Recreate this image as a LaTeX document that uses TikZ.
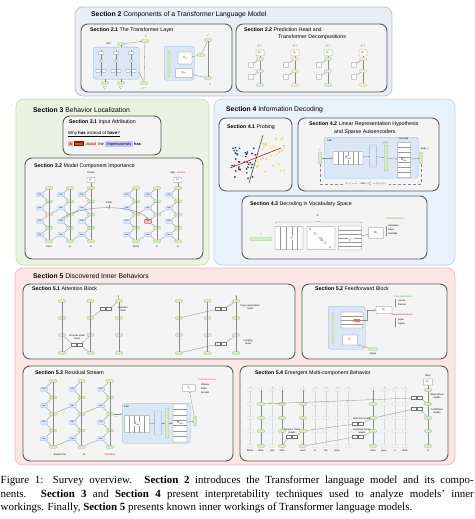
\RequirePackage{fix-cm}
\documentclass[tikz,border=0pt]{standalone}
\usepackage{fontspec}
\setmainfont{Liberation Serif}
\newfontfamily\hel{Liberation Sans}
\DeclareFontShape{OML}{cmm}{m}{it}{<->s*[1] cmmi10}{}
\DeclareFontShape{OML}{cmm}{b}{it}{<->s*[1] cmmib10}{}
\DeclareFontShape{OMS}{cmsy}{m}{n}{<->s*[1] cmsy10}{}
\DeclareFontShape{OMS}{cmsy}{b}{n}{<->s*[1] cmbsy10}{}
\usetikzlibrary{arrows.meta,decorations.pathreplacing,calc}
\definecolor{s2fill}{HTML}{EAEEF2}
\definecolor{s2draw}{HTML}{B8C2CC}
\definecolor{s3fill}{HTML}{EAF3E2}
\definecolor{s3draw}{HTML}{C6DEB4}
\definecolor{s4fill}{HTML}{E9F1FB}
\definecolor{s4draw}{HTML}{C2D4EC}
\definecolor{s5fill}{HTML}{FBE6E6}
\definecolor{s5draw}{HTML}{F0BDBD}
\definecolor{subfill}{HTML}{F4F4F4}
\definecolor{subdraw}{HTML}{5A5A5A}
\definecolor{rsfill}{HTML}{D8EBC8}
\definecolor{rsdraw}{HTML}{9BC283}
\definecolor{blkfill}{HTML}{DCE7F5}
\definecolor{blkdraw}{HTML}{9DB8DC}
\definecolor{lnc}{HTML}{8A8A8A}
\definecolor{redc}{HTML}{B22222}
\definecolor{greenc}{HTML}{6AA84F}
\definecolor{khaki}{HTML}{CFC48A}
\definecolor{gcol}{HTML}{A9BC9A}
\definecolor{dotblue}{HTML}{1F3B57}
\definecolor{dotyel}{HTML}{E6DC50}
\tikzset{
  secbox/.style={rounded corners=8pt,line width=0.7pt},
  subbox/.style={draw=subdraw,fill=subfill,rounded corners=7pt,line width=0.9pt},
  sectitle/.style={anchor=west,inner sep=0pt,font=\hel\fontsize{6.8}{8}\selectfont},
  subtitle/.style={anchor=west,inner sep=0pt,font=\hel\fontsize{5.3}{6.5}\selectfont},
  rs/.style={draw=rsdraw,fill=rsfill,line width=0.3pt,minimum width=7pt,minimum height=2.6pt,inner sep=0pt,rounded corners=0.6pt},
  rsfaint/.style={draw=black!15,fill=black!5,line width=0.25pt,minimum width=6pt,minimum height=2.4pt,inner sep=0pt,rounded corners=0.5pt},
  blk/.style={draw=blkdraw,fill=blkfill,line width=0.35pt,rounded corners=2.5pt},
  comp/.style={draw=blkdraw,fill=blkfill,line width=0.3pt,minimum width=7pt,minimum height=4pt,inner sep=0pt,rounded corners=0.8pt,font=\hel\fontsize{1.8}{2.2}\selectfont},
  wbox/.style={draw=black!55,fill=white,line width=0.3pt,inner sep=0pt,rounded corners=0.5pt},
  tinyt/.style={inner sep=0pt,font=\hel\fontsize{2.4}{2.8}\selectfont},
  smallt/.style={inner sep=0pt,font=\hel\fontsize{3.3}{3.9}\selectfont},
  wire/.style={draw=lnc,line width=0.3pt},
  arr/.style={draw=lnc,line width=0.3pt,-{Stealth[length=1.5pt,width=1.2pt]}},
  head/.style={draw=black!55,fill=white,line width=0.3pt,minimum width=5pt,minimum height=3.2pt,inner sep=0pt},
}
% transformer stack: #1 x of first stream column, #2 prefix, #3 y of top row, #4 row step, #5 column step
\newcommand{\tstack}[5]{%
  \foreach \c in {1,2,3}{
    \pgfmathsetmacro{\cx}{#1+(\c-1)*#5}
    \foreach \r in {1,...,5}{
      \pgfmathsetmacro{\ry}{#3+(\r-1)*#4}
      \node[rs] (#2g\c\r) at (\cx,\ry) {};
    }
    \draw[wire] (#2g\c5) -- (#2g\c1);
    \foreach \r/\lab in {1/FFN,2/Attn,3/FFN,4/Attn}{
      \pgfmathsetmacro{\ry}{#3+(\r-0.5)*#4}
      \pgfmathtruncatemacro{\rn}{\r+1}
      \node[comp] (#2b\c\r) at (\cx-9,\ry) {\lab};
      \draw[wire] (#2g\c\rn) -- (#2b\c\r) -- (#2g\c\r);
    }
  }
  \foreach \c/\p in {2/1,3/2}{\foreach \r/\rn in {2/3,4/5}{\draw[wire] (#2g\p\rn) -- (#2b\c\r);}}
}
\begin{document}
\begin{tikzpicture}[x=1pt,y=-1pt]
\useasboundingbox (0,0) rectangle (474,519);
\fill[white] (0,0) rectangle (474,519);
% ---------------- section boxes
\draw[secbox,draw=s2draw,fill=s2fill] (75,7) rectangle (392,96);
\draw[secbox,draw=s3draw,fill=s3fill] (16,99) rectangle (209,265);
\draw[secbox,draw=s4draw,fill=s4fill] (214,99) rectangle (455,265);
\draw[secbox,draw=s5draw,fill=s5fill] (15,268) rectangle (455,465);
\draw[subbox] (81,24) rectangle (232,92);
\draw[subbox] (236,24) rectangle (387,92);
\draw[subbox] (63,116) rectangle (161,155);
\draw[subbox] (25,158) rectangle (203,259);
\draw[subbox] (219,118) rectangle (292,191);
\draw[subbox] (298,118) rectangle (439,191);
\draw[subbox] (242,196) rectangle (427,259);
\draw[subbox] (23,284) rectangle (295,359);
\draw[subbox] (302,284) rectangle (447,359);
\draw[subbox] (23,366) rectangle (233,461);
\draw[subbox] (240,366) rectangle (448,461);
% ---------------- titles
\node[sectitle] (t2) at (91,15) {\textbf{Section 2} Components of a Transformer Language Model};
\node[subtitle] (t21) at (90,30) {\textbf{Section 2.1} The Transformer Layer};
\node[subtitle] (t22) at (244,30) {\textbf{Section 2.2} Prediction Head and};
\node[subtitle] (t22b) at (278,37) {Transformer Decompositions};
\node[sectitle] (t3) at (33,110) {\textbf{Section 3} Behavior Localization};
\node[subtitle] (t31) at (69,122) {\textbf{Section 3.1} Input Attribution};
\node[subtitle] (t32) at (34,166) {\textbf{Section 3.2} Model Component Importance};
\node[sectitle] (t4) at (226,110) {\textbf{Section 4} Information Decoding};
\node[subtitle] (t41) at (227,127) {\textbf{Section 4.1} Probing};
\node[subtitle] (t42) at (309,124) {\textbf{Section 4.2} Linear Representation Hypothesis};
\node[subtitle] (t42b) at (334,132) {and Sparse Autoencoders};
\node[subtitle] (t43) at (250,204) {\textbf{Section 4.3} Decoding in Vocabulary Space};
\node[sectitle] (t5) at (33,276) {\textbf{Section 5} Discovered Inner Behaviors};
\node[subtitle] (t51) at (32,289) {\textbf{Section 5.1} Attention Block};
\node[subtitle] (t52) at (315,289) {\textbf{Section 5.2} Feedforward Block};
\node[subtitle] (t53) at (35,373) {\textbf{Section 5.3} Residual Stream};
\node[subtitle] (t54) at (255,373) {\textbf{Section 5.4} Emergent Multi-component Behavior};
% ---------------- 2.1
\node[blk,minimum width=46pt,minimum height=32pt,anchor=north west] (attnblk) at (93,47) {};
\foreach \i/\x in {1/101,2/116,3/131}{
  \draw[wire] (\x,50) -- (\x,76);
  \node[wbox,minimum width=5pt,minimum height=3pt] (aq\i) at (\x,53) {};
  \node[draw=black!55,fill=white,circle,inner sep=0pt,minimum size=3pt,line width=0.3pt] (ac\i) at (\x,61) {};
  \node[wbox,minimum width=4pt,minimum height=3pt] (ak\i) at (\x-3,71) {};
  \node[wbox,minimum width=4pt,minimum height=3pt] (av\i) at (\x+3,71) {};
}
\node[rs] (x1) at (105,83) {};
\node[rs] (x2) at (121,83) {};
\node[rs] (x3) at (144,83) {};
\node[tinyt] (lx1) at (105,88) {$x_1^{l-1}$};
\node[tinyt] (lx2) at (121,88) {$x_2^{l-1}$};
\node[tinyt] (lx3) at (144,88) {$x^{l-1}$};
\node[rs] (at) at (121,44) {};
\node[tinyt] (lat) at (109,43) {Attn$^l$};
\node[rs] (xt) at (145,41) {};
\node[tinyt] (lxt) at (146,36) {$\tilde{x}^l$};
\draw[wire] (x1) -- (105,79); \draw[wire] (x2) -- (121,79);
\draw[wire] (x3) -- (xt);
\draw[wire] (at) -- (121,47);
\draw[arr] (at) -- (xt);
\draw[wire] (139,72) -- (x3);
\node[blk,minimum width=30pt,minimum height=34pt,anchor=north west] (ffnblk) at (164,46) {};
\node[rs,minimum width=2pt,minimum height=26pt] (fbar) at (169,64) {};
\node[wbox,minimum width=14pt,minimum height=12pt] (fup) at (185,58) {\hel\fontsize{2.4}{3}\selectfont$W_{\rm in}$};
\node[wbox,minimum width=17pt,minimum height=9pt] (fdn) at (184,73) {\hel\fontsize{2.4}{3}\selectfont$W_{\rm out}$};
\node[rs] (fo) at (201,55) {};
\node[rs] (xl) at (208,40) {};
\node[rs] (xl1) at (208,78) {};
\node[tinyt] (lxl) at (208,35) {$x^l$};
\node[tinyt] (lxl1) at (210,84) {$\tilde{x}^l$};
\draw[wire] (xl) -- (xl1);
\draw[wire] (fup) -- (fo) -- (xl);
\draw[wire] (fdn) -- (xl1);
% ---------------- 2.2
\foreach \c/\x/\col in {1/260/gcol,2/295/khaki,3/328/gcol,4/363/khaki}{
  \draw[wire] (\x,53) -- (\x,85);
  \node[tinyt] (pp\c) at (\x,46) {$p(\cdot)$};
  \node[wbox,draw=\col,line width=0.5pt,minimum width=8pt,minimum height=6pt] (wu\c) at (\x,53) {\hel\fontsize{2.4}{3}\selectfont$W_U$};
  \node[rs,draw=\col,fill=\col!35] (ra\c) at (\x,59) {};
  \node[wbox,minimum width=5pt,minimum height=5pt] (sa\c) at (\x-9,65) {};
  \node[rs,draw=\col,fill=\col!35] (rb\c) at (\x,71) {};
  \node[wbox,minimum width=5pt,minimum height=5pt] (sb\c) at (\x-9,77) {};
  \node[rs,draw=\col,fill=\col!35] (rc\c) at (\x,85) {};
  \draw[wire] (sa\c) -- (ra\c); \draw[wire] (sb\c) -- (rb\c);
}
% ---------------- 3.1
\node[anchor=west,inner sep=0pt,font=\hel\fontsize{4.4}{5}\selectfont] (q31) at (68,134) {\underline{Why \textbf{has} instead of \textbf{have}?}};
\node[anchor=west,inner sep=0pt,font=\hel\fontsize{3.9}{4.5}\selectfont] (s31) at (68,144) {\setlength{\fboxsep}{1.1pt}\colorbox{red!30}{A}\,\colorbox{red!65!black}{\textcolor{red!25}{book}}\ \colorbox{red!10}{\textcolor{red!60!black}{about}} the \colorbox{blue!22}{\,impressionists\,}\ \textbf{has}};
% ---------------- 3.2
\tstack{49}{L}{188}{13.3}{21}
\tstack{136}{R}{188}{13.3}{21}
\node[wbox,minimum width=8pt,minimum height=5pt] (lwu) at (91,180) {\hel\fontsize{2.2}{3}\selectfont$W_U$};
\node[wbox,minimum width=8pt,minimum height=5pt] (rwu) at (178,180) {\hel\fontsize{2.2}{3}\selectfont$W_U$};
\draw[wire] (Lg31) -- (lwu); \draw[wire] (Rg31) -- (rwu);
\node[tinyt] (lfr) at (91,173) {France};
\node[tinyt] (rfr) at (178,173) {Italy $\rightarrow$\textcolor{redc}{France}};
\node[comp,draw=redc,fill=red!25] (hl) at (Rb23) {FFN};
\draw[lnc,line width=0.4pt,-{Stealth[length=2pt]}] (Lb23.north) .. controls (80,204) and (135,204) .. (hl.north);
\node[tinyt] (patch) at (109,203) {Patch};
\draw[arr] (109,205) -- (109,209);
\foreach \n/\x/\t in {1/49/Paris,2/70/is,3/91/in}{\node[tinyt] (ltok\n) at (\x,247) {\t};}
\foreach \n/\x/\t in {1/136/Rome,2/157/is,3/178/in}{\node[tinyt] (rtok\n) at (\x,247) {\t};}
% ---------------- 4.1
\pgfmathsetseed{11}
\foreach \i in {1,...,38}{
  \pgfmathsetmacro{\px}{231+rnd*26}
  \pgfmathsetmacro{\py}{146+rnd*34}
  \fill[dotblue] (\px,\py) circle (0.95pt);
}
\foreach \i in {1,...,34}{
  \pgfmathsetmacro{\px}{257+rnd*28}
  \pgfmathsetmacro{\py}{138+rnd*34}
  \fill[dotyel] (\px,\py) circle (0.95pt);
}
\draw[black!80,line width=0.5pt] (263,135) -- (249,183);
\draw[red!75!black,line width=0.5pt] (230,168) -- (281,148);
\node[tinyt] (wlab41) at (284,146) {$w$};
% ---------------- 4.2
\node[blk,minimum width=94pt,minimum height=41pt,anchor=north west] (sae) at (324,137) {};
\node[tinyt,anchor=west] (saet) at (327,141) {SAE};
\node[rs,minimum width=3pt,minimum height=12pt] (xin) at (320,158) {};
\node[tinyt] (lxin) at (320,150) {$x$};
\node[wbox,minimum width=30pt,minimum height=13pt] (wenc) at (348,158) {};
\foreach \k in {1,...,5}{\draw[black!40,line width=0.25pt] (333+\k*5,151.5) -- (333+\k*5,164.5);}
\node[smallt,fill=white,inner sep=0.5pt] (lwenc) at (348,158) {$W_{\mathrm{enc}}$};
\node[blk,minimum width=3.5pt,minimum height=22pt,rounded corners=0.5pt] (relu) at (373,156) {};
\node[rs,minimum width=3.5pt,minimum height=26pt] (fx) at (386,158) {};
\node[tinyt] (lfx) at (386,143) {$f(x)$};
\node[wbox,minimum width=13pt,minimum height=35pt] (wdec) at (404,160) {};
\foreach \k in {1,...,6}{\draw[black!40,line width=0.25pt] (397.5,142.5+\k*5) -- (410.5,142.5+\k*5);}
\node[tinyt] (lwdect) at (404,139) {Decoder};
\node[smallt,fill=white,inner sep=0.5pt] (lwdec) at (404,160) {$W_{\mathrm{dec}}$};
\node[rs,minimum width=3pt,minimum height=12pt] (xout) at (421,158) {};
\node[tinyt] (lxout) at (425,149) {SAE$(x)$};
\draw[arr] (xin) -- (wenc); \draw[arr] (wenc) -- (relu); \draw[arr] (relu) -- (fx); \draw[arr] (fx) -- (wdec); \draw[arr] (wdec) -- (xout);
\node[tinyt] (loss) at (366,184) {$\mathcal{L}(x)=\|x-\mathrm{SAE}(x)\|_2^2+\alpha\|f(x)\|_1$};
\draw[lnc,densely dashed,line width=0.3pt] (xin.south) |- ([xshift=-2pt]loss.west);
\draw[lnc,densely dashed,line width=0.3pt] (xout.south) |- ([xshift=2pt]loss.east);
% ---------------- 4.3
\node[tinyt] (wlab) at (318,216) {$W$};
\draw[lnc,line width=0.3pt,decorate,decoration={brace,amplitude=2pt}] (275,223) -- (362,223);
\node[rs,minimum width=22pt,minimum height=3pt] (x43) at (261,239) {};
\node[tinyt] (lx43) at (261,234) {$x$};
\node[wbox,minimum width=28pt,minimum height=23pt] (U) at (289,238) {};
\foreach \k in {1,...,4}{\draw[black!40,line width=0.25pt] (275+\k*5.6,226.5) -- (275+\k*5.6,249.5);}
\node[smallt,fill=white,inner sep=0.5pt] (lU) at (292,238) {$U$};
\node[wbox,minimum width=28pt,minimum height=23pt] (S) at (321,238) {};
\foreach \k in {0,...,4}{\draw[black!50,line width=0.25pt] (310+\k*5,229+\k*4.5) circle (1.3pt);}
\node[smallt] (lS) at (322,240) {$\Sigma$};
\node[wbox,minimum width=23pt,minimum height=24pt] (VT) at (350,238) {};
\foreach \k in {1,...,5}{\draw[black!40,line width=0.25pt] (338.5,226+\k*4) -- (361.5,226+\k*4);}
\node[smallt,fill=white,inner sep=0.5pt] (lVT) at (351,240) {$V^{\top}$};
\node[wbox,minimum width=15pt,minimum height=11pt] (wu43) at (376,233) {\hel\fontsize{3}{3.5}\selectfont$W_U$};
\draw[arr] (VT) -- (wu43);
\node[tinyt,text=greenc,anchor=west] (pt43) at (386,219) {Predicted tokens};
\draw[wire] (386,226) -- (386,236);
\node[tinyt,anchor=west] (pt43a) at (388,226) {Summary};
\node[tinyt,anchor=west] (pt43b) at (388,230) {Sport};
\node[tinyt,anchor=west] (pt43c) at (388,234) {Australia};
% ---------------- 5.1
\foreach \p/\xs in {A/62,B/179}{
  \foreach \c in {1,2,3}{
    \pgfmathsetmacro{\cx}{\xs+(\c-1)*28.5}
    \foreach \r/\y in {1/301,2/318,3/335,4/353}{\node[rs] (\p\c\r) at (\cx,\y) {};}
    \draw[wire] (\p\c4) -- (\p\c1);
  }
}
\node[head] (ih1) at (103,309) {}; \node[head] (ih2) at (109,309) {};
\node[tinyt,align=center] (lih) at (123,309) {Induction\\head};
\draw[wire] (A22) -- (ih1); \draw[wire] (ih2) -- (A31);
\node[head] (pt1) at (74,345) {}; \node[head] (pt2) at (80,345) {};
\node[tinyt,align=center] (lpt) at (77,337) {Previous token\\head};
\draw[wire] (A14) -- (pt1); \draw[wire] (pt2) -- (A23);
\draw[wire] (A24) -- (pt2); \draw[wire] (pt1) -- (A13);
\draw[arr] (A31) -- (118,295);
\node[head] (cs1) at (218,309) {}; \node[head] (cs2) at (224,309) {};
\node[tinyt,align=center] (lcs) at (250,307) {Copy suppression\\head};
\draw[wire] (B12) -- (cs1); \draw[wire] (cs2) -- (B31);
\node[head] (cp1) at (218,344) {}; \node[head] (cp2) at (224,344) {};
\node[tinyt,align=center] (lcp) at (248,342) {Copying\\head};
\draw[wire] (B14) -- (cp1); \draw[wire] (cp2) -- (B33);
\draw[arr] (B31) -- (236,295);
% ---------------- 5.2
\node[blk,minimum width=37pt,minimum height=43pt,anchor=north west] (ffn52) at (328,306) {};
\node[rs,minimum width=2pt,minimum height=30pt] (bar52) at (333,328) {};
\node[wbox,minimum width=22pt,minimum height=16pt] (win52) at (352,320) {};
\foreach \k in {1,...,3}{\draw[black!40,line width=0.25pt] (341,312+\k*4) -- (363,312+\k*4);}
\fill[red!60] (354,319) rectangle (360,322);
\node[wbox,minimum width=15pt,minimum height=10pt] (wout52) at (350,340) {\hel\fontsize{2.4}{3}\selectfont$W$};
\node[wbox,minimum width=16pt,minimum height=7pt] (wu52) at (384,310) {\hel\fontsize{2.6}{3}\selectfont$W_U$};
\draw[arr] (win52.east) -- ++(4,0) |- (wu52.west);
\node[tinyt,text=greenc,anchor=west] (prom52) at (394,297) {Promoted tokens};
\node[tinyt,anchor=west] (p52a) at (398,301) {cancer};
\node[tinyt,anchor=west] (p52b) at (398,305) {Dancer};
\node[tinyt,text=redc,anchor=west] (sup52) at (392,315) {Suppressed tokens};
\node[tinyt,anchor=west] (s52a) at (398,320) {japan};
\node[tinyt,anchor=west] (s52b) at (398,324) {Japan};
\draw[wire] (395,299) -- (395,307); \draw[wire] (395,318) -- (395,327);
\node[rs,minimum width=9pt] (jp) at (373,349) {};
\node[tinyt] (ljp) at (373,354) {Japan};
\draw[wire] (wout52.south east) -- (jp);
% ---------------- 5.3
\tstack{53}{S}{381}{16.5}{28.5}
\node[blk,minimum width=68pt,minimum height=40pt,anchor=north west] (sae53) at (122,403) {};
\node[tinyt,anchor=west] (lsae53) at (124,407) {SAE};
\node[wbox,minimum width=25pt,minimum height=17pt] (wenc53) at (137,424) {};
\foreach \k in {1,...,4}{\draw[black!40,line width=0.25pt] (124.5+\k*5,415.5) -- (124.5+\k*5,432.5);}
\node[smallt,fill=white,inner sep=0.5pt] (lwenc53) at (137,424) {$W_{\mathrm{enc}}$};
\node[blk,minimum width=3pt,minimum height=24pt,rounded corners=0.5pt] (relu53) at (158,423) {};
\node[rs,minimum width=3.5pt,minimum height=30pt] (f53) at (167,423) {};
\node[wbox,minimum width=14pt,minimum height=38pt] (wdec53) at (180,423) {};
\foreach \k in {1,...,6}{\draw[black!40,line width=0.25pt] (173,404+\k*5.4) -- (187,404+\k*5.4);}
\node[smallt,fill=white,inner sep=0.5pt] (lwdec53) at (180,423) {$W_{\mathrm{dec}}$};
\draw[arr] (wenc53) -- (relu53); \draw[arr] (relu53) -- (f53); \draw[arr] (f53) -- (wdec53);
\node[rs,minimum width=3pt,minimum height=10pt] (out53) at (195,421) {};
\draw[arr] (wdec53) -- (out53);
\node[wbox,minimum width=13pt,minimum height=7pt] (wu53) at (189,388) {\hel\fontsize{2.4}{3}\selectfont$W_U$};
\draw[arr] (out53) -- (wu53);
\node[tinyt,text=red!70,anchor=west] (prom53) at (198,380) {Promoted tokens};
\node[tinyt,anchor=west] (p53a) at (201,385) {Obama};
\node[tinyt,anchor=west] (p53b) at (201,389) {Bush};
\node[tinyt,anchor=west] (p53c) at (201,393) {Donald};
\draw[arr] (Sg33) -- (sae53.west|-Sg33);
\node[tinyt] (lx53) at (116,417) {$x$};
\node[tinyt] (tk53a) at (60,455) {Beatles fan};
\node[tinyt] (tk53b) at (84,455) {of};
\node[tinyt,text=redc] (tk53c) at (110,455) {President};
% ---------------- 5.4
\foreach \i/\x/\t in {0/250/When,1/261/Mary,2/272/and,3/282/John,4/303/went,5/315/to,6/326/the,7/337/store,8/348/{,},9/373/John,10/384/gave,11/395/a,12/405/drink,13/428/to}{
  \draw[black!15,line width=0.3pt] (\x,386) -- (\x,446);
  \foreach \r/\y in {1/390,2/404,3/418,4/431,5/446}{\node[rsfaint] (e\i-\r) at (\x,\y) {};}
  \node[tinyt] (tok\i) at (\x,451) {\t};
}
\foreach \i/\x in {1/261,3/282,4/303,9/373,13/428}{
  \draw[lnc,line width=0.3pt] (\x,390) -- (\x,446);
  \foreach \r/\y in {2/404,3/418,4/431,5/446}{\node[rs] (h\i-\r) at (\x,\y) {};}
}
\node[rs] (h13-1) at (428,390) {};
\node[wbox,minimum width=9pt,minimum height=6pt] (wu54) at (428,382) {\hel\fontsize{2.2}{3}\selectfont$W_U$};
\node[tinyt] (mary) at (428,376) {Mary};
\draw[wire] (h13-1) -- (wu54);
\node[head] (nm1) at (414,398) {}; \node[head] (nm2) at (420,398) {};
\node[tinyt,align=center] (lnm) at (437,396) {Name Mover\\Heads};
\node[head] (si1) at (414,409) {}; \node[head] (si2) at (420,409) {};
\node[tinyt,align=center] (lsi) at (437,411) {S-Inhibition\\Heads};
\node[head] (in1) at (355,424) {}; \node[head] (in2) at (361,424) {};
\node[tinyt] (lin) at (362,419) {Induction Heads};
\node[head] (dt1) at (355,437) {}; \node[head] (dt2) at (361,437) {};
\node[tinyt,align=center] (ldt) at (362,431) {Duplicate Token\\Heads};
\node[head] (pv1) at (289,437) {}; \node[head] (pv2) at (295,437) {};
\node[tinyt,align=center] (lpv) at (292,431) {Previous Token\\Heads};
\draw[wire] (h1-2) -- (nm1); \draw[wire] (nm2) -- (h13-2);
\draw[wire] (h9-3) -- (si1); \draw[wire] (si2) -- (h13-3);
\draw[wire] (h4-4) -- (in1); \draw[wire] (in2) -- (h9-3);
\draw[wire] (h4-5) -- (dt1); \draw[wire] (dt2) -- (h9-4);
\draw[wire] (h3-5) -- (pv1); \draw[wire] (pv2) -- (h4-4);
% ---------------- caption
\node[anchor=north west,inner sep=0pt,text width=473pt,align=justify,font=\fontsize{10.9}{13.8}\selectfont] (cap) at (0.5,475.5) {Figure 1: Survey overview. \textbf{Section 2} introduces the Transformer language model and its compo-\linebreak nents. \textbf{Section 3} and \textbf{Section 4} present interpretability techniques used to analyze models' inner\linebreak workings. Finally, \textbf{Section 5} presents known inner workings of Transformer language models.};
\end{tikzpicture}
\end{document}
